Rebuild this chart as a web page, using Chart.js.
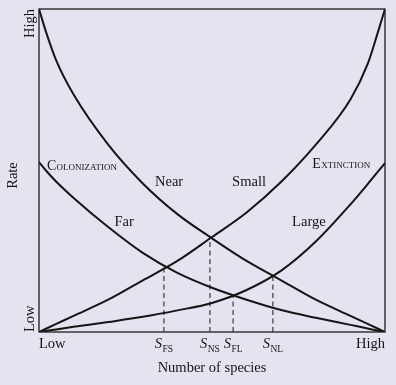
<!DOCTYPE html>
<html>
<head>
<meta charset="utf-8">
<script src="https://cdn.jsdelivr.net/npm/chart.js@4.4.0/dist/chart.umd.min.js"></script>
<style>
  body { margin: 0; background: #e6e2ef; }
  #wrap { width: 396px; height: 385px; }
</style>
</head>
<body>
<div id="wrap"><canvas id="grafica" width="396" height="385"></canvas></div>
<script>
// número de especies (0 = Low, 1 = High)
const speciesX = [0, 0.02, 0.05, 0.1, 0.2, 0.3, 0.4, 0.5, 0.6, 0.7, 0.8, 0.9, 0.95, 0.98, 1];

// tasas (0 = Low, 1 = High)
const nearColonization = [1, 0.93, 0.84, 0.735, 0.58, 0.46, 0.365, 0.29, 0.22, 0.16, 0.10, 0.05, 0.025, 0.01, 0];
const farColonization  = [0.526, 0.50, 0.465, 0.415, 0.325, 0.245, 0.183, 0.137, 0.10, 0.068, 0.044, 0.022, 0.011, 0.004, 0];
const smallExtinction  = [0, 0.01, 0.025, 0.05, 0.10, 0.16, 0.22, 0.294, 0.37, 0.465, 0.58, 0.72, 0.83, 0.93, 1];
const largeExtinction  = [0, 0.003, 0.008, 0.016, 0.031, 0.047, 0.067, 0.09, 0.13, 0.19, 0.28, 0.395, 0.458, 0.497, 0.523];

// puntos de equilibrio (S)
const eqNames = ['FS', 'NS', 'FL', 'NL'];
const eqX = [0.361, 0.494, 0.561, 0.676];
const eqY = [0.202, 0.292, 0.112, 0.172];

// etiquetas de los ejes
const xEnds = ['Low', 'High'];
const yEnds = ['Low', 'High'];

const SERIF = '"Liberation Serif", "DejaVu Serif", serif';
const INK = '#151515';

function puntos(valores) {
    return speciesX.map((x, i) => ({ x: x, y: valores[i] }));
}

function curva(valores) {
    return {
        data: puntos(valores),
        borderColor: INK,
        borderWidth: 2,
        pointRadius: 0,
        fill: false,
        cubicInterpolationMode: 'monotone'
    };
}

const datasets = [
    curva(nearColonization),
    curva(farColonization),
    curva(smallExtinction),
    curva(largeExtinction)
];

// líneas discontinuas desde el eje hasta cada equilibrio
eqX.forEach((x, i) => {
    datasets.push({
        data: [{ x: x, y: 0 }, { x: x, y: eqY[i] }],
        borderColor: '#3a3a3a',
        borderWidth: 1.2,
        borderDash: [5, 3.5],
        pointRadius: 0,
        fill: false
    });
});

// texto en versalitas: primera letra grande, resto pequeño
function versalitas(ctx, texto, x, y, grande, chica) {
    ctx.textAlign = 'left';
    ctx.textBaseline = 'alphabetic';
    ctx.font = grande + 'px ' + SERIF;
    ctx.fillText(texto[0], x, y);
    const w = ctx.measureText(texto[0]).width;
    ctx.font = chica + 'px ' + SERIF;
    ctx.fillText(texto.slice(1).toUpperCase(), x + w + 0.3, y);
}

// etiquetas dentro del gráfico (en coordenadas de datos)
const curveLabels = [
    { text: 'Near', x: 0.376, y: 0.464 },
    { text: 'Small', x: 0.607, y: 0.464 },
    { text: 'Far', x: 0.246, y: 0.341 },
    { text: 'Large', x: 0.780, y: 0.341 }
];

const textos = {
    id: 'textos',
    afterDraw(chart) {
        const ctx = chart.ctx;
        const a = chart.chartArea;
        const sx = chart.scales.x;
        const sy = chart.scales.y;
        ctx.save();
        ctx.fillStyle = INK;

        // marco
        ctx.strokeStyle = '#1c1c1c';
        ctx.lineWidth = 1.3;
        ctx.strokeRect(a.left, a.top, a.right - a.left, a.bottom - a.top);

        // nombres de las curvas
        ctx.font = '14.5px ' + SERIF;
        ctx.textAlign = 'center';
        ctx.textBaseline = 'middle';
        curveLabels.forEach(l => {
            ctx.fillText(l.text, sx.getPixelForValue(l.x), sy.getPixelForValue(l.y));
        });
        versalitas(ctx, 'Colonization', sx.getPixelForValue(0.023), sy.getPixelForValue(0.517) + 5, 14, 9);
        versalitas(ctx, 'Extinction', sx.getPixelForValue(0.79), sy.getPixelForValue(0.522) + 5, 14, 9);

        // eje X: Low / High
        const base = a.bottom + 16;
        ctx.font = '14.5px ' + SERIF;
        ctx.textBaseline = 'alphabetic';
        ctx.textAlign = 'left';
        ctx.fillText(xEnds[0], sx.getPixelForValue(0), base);
        ctx.textAlign = 'right';
        ctx.fillText(xEnds[1], sx.getPixelForValue(1), base);

        // eje X: S con subíndice
        eqX.forEach((x, i) => {
            ctx.font = 'italic 14.5px ' + SERIF;
            const wS = ctx.measureText('S').width;
            ctx.font = '9.5px ' + SERIF;
            const wSub = ctx.measureText(eqNames[i]).width;
            const x0 = sx.getPixelForValue(x) - (wS + wSub + 0.5) / 2;
            ctx.textAlign = 'left';
            ctx.font = 'italic 14.5px ' + SERIF;
            ctx.fillText('S', x0, base);
            ctx.font = '9.5px ' + SERIF;
            ctx.fillText(eqNames[i], x0 + wS + 0.5, base + 3.5);
        });

        // título eje X
        ctx.font = '14.5px ' + SERIF;
        ctx.textAlign = 'center';
        ctx.fillText('Number of species', (a.left + a.right) / 2, a.bottom + 40);

        // eje Y (rotado)
        const yx = a.left - 9;
        ctx.save();
        ctx.translate(yx, sy.getPixelForValue(1));
        ctx.rotate(-Math.PI / 2);
        ctx.textAlign = 'right';
        ctx.textBaseline = 'middle';
        ctx.fillText(yEnds[1], 0, 0);
        ctx.restore();

        ctx.save();
        ctx.translate(yx, sy.getPixelForValue(0));
        ctx.rotate(-Math.PI / 2);
        ctx.textAlign = 'left';
        ctx.textBaseline = 'middle';
        ctx.fillText(yEnds[0], 0, 0);
        ctx.restore();

        ctx.save();
        ctx.translate(13, (a.top + a.bottom) / 2 + 5);
        ctx.rotate(-Math.PI / 2);
        ctx.textAlign = 'center';
        ctx.textBaseline = 'middle';
        ctx.fillText('Rate', 0, 0);
        ctx.restore();

        ctx.restore();
    }
};

const ctx = document.getElementById('grafica').getContext('2d');
const grafica = new Chart(ctx, {
    type: 'line',
    data: { datasets: datasets },
    options: {
        responsive: false,
        animation: false,
        devicePixelRatio: 1,
        layout: { padding: { left: 39, top: 9, right: 11, bottom: 53 } },
        scales: {
            x: { type: 'linear', min: 0, max: 1, display: false },
            y: { type: 'linear', min: 0, max: 1, display: false }
        },
        plugins: {
            legend: { display: false },
            tooltip: { enabled: false }
        }
    },
    plugins: [textos]
});
</script>
</body>
</html>
